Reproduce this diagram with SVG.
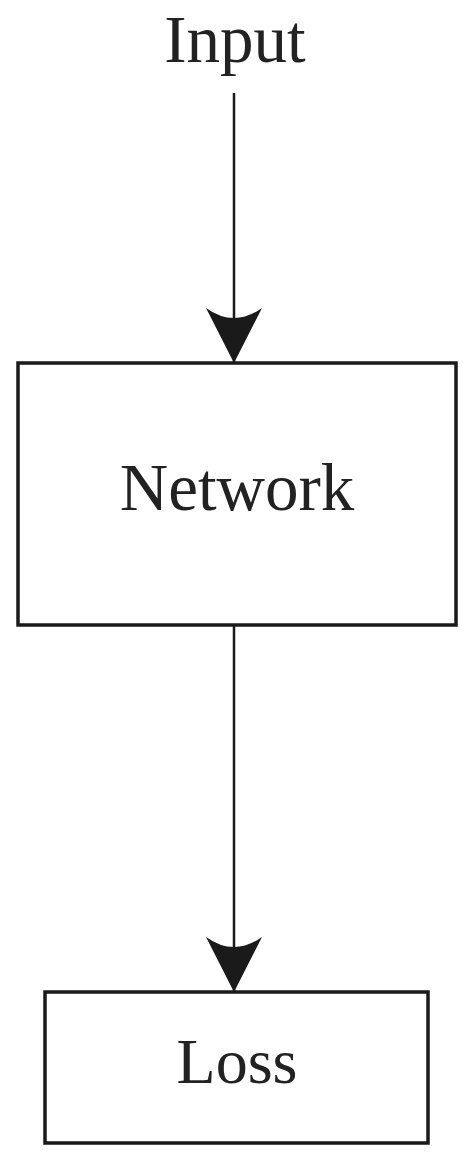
<svg xmlns="http://www.w3.org/2000/svg" width="474" height="1162" viewBox="0 0 474 1162">
  <style>
    .box { fill: #ffffff; stroke: #1a1a1a; stroke-width: 3.5; }
    .edge { fill: none; stroke: #1a1a1a; stroke-width: 2.5; }
    .label { font-family: "Liberation Serif", "Times New Roman", serif; font-size: 64px; fill: #222222; text-anchor: middle; }
  </style>
  <defs>
    <marker id="arrow" markerUnits="userSpaceOnUse" markerWidth="56" markerHeight="56" viewBox="0 0 56 56" refX="55" refY="28" orient="auto">
      <path d="M0,0 Q20,28 0,56 L55,28 Z" fill="#1a1a1a"/>
    </marker>
  </defs>
  <rect width="474" height="1162" fill="#ffffff"/>
  <g id="connectors">
    <line class="edge" x1="234" y1="93" x2="234" y2="363" marker-end="url(#arrow)"/>
    <line class="edge" x1="234" y1="625" x2="234" y2="992" marker-end="url(#arrow)"/>
  </g>
  <g id="input">
    <text class="label" x="235" y="62" style="font-size:67px">Input</text>
  </g>
  <g id="network">
    <rect class="box" x="18" y="363" width="438" height="262"/>
    <text class="label" x="237" y="510" style="font-size:67px">Network</text>
  </g>
  <g id="loss">
    <rect class="box" x="45" y="992" width="383" height="151"/>
    <text class="label" x="237" y="1083">Loss</text>
  </g>
</svg>
